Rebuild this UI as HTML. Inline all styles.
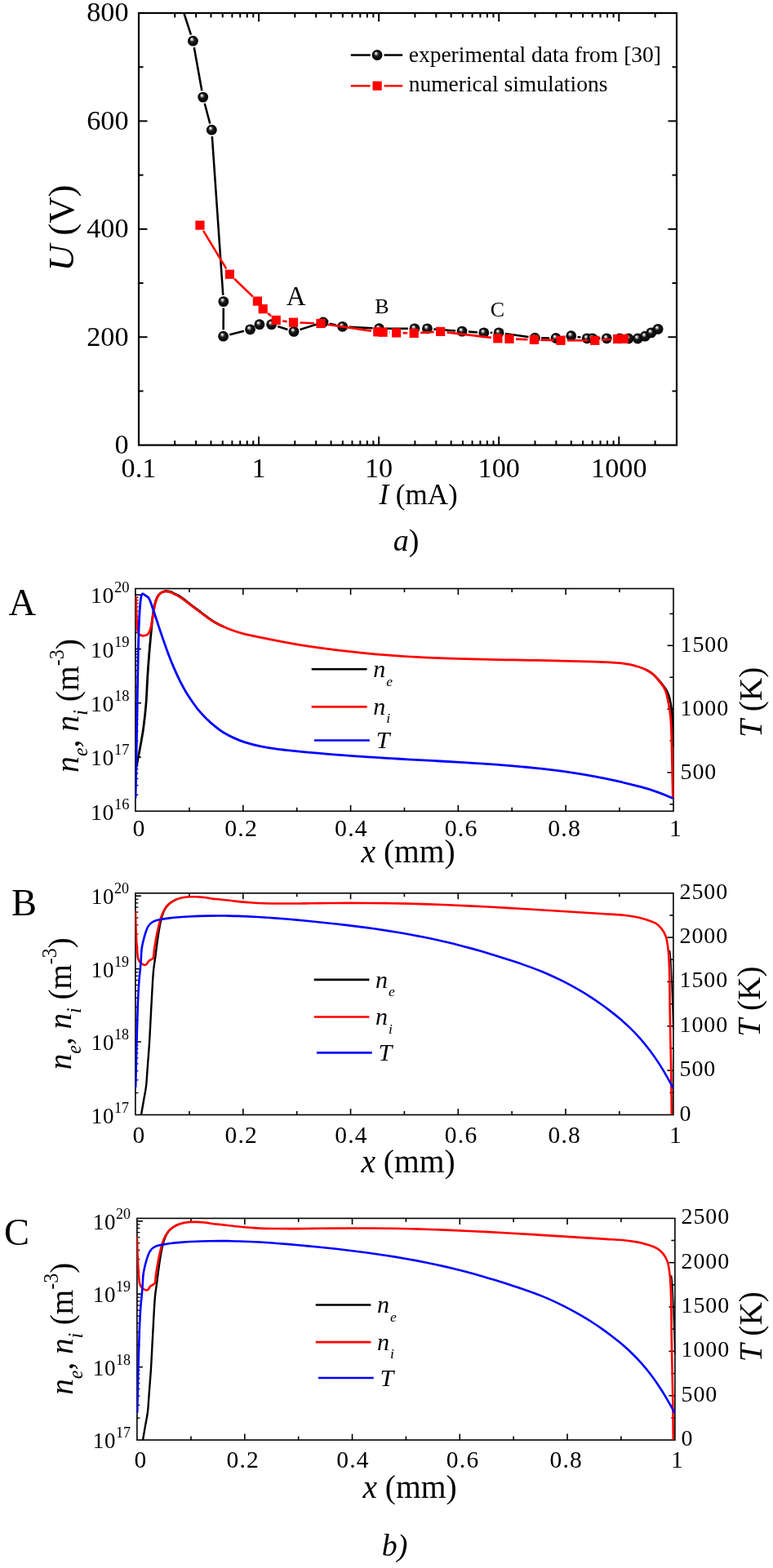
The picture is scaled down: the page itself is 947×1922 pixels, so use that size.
<!DOCTYPE html>
<html><head><meta charset="utf-8"><title>Figure</title>
<style>html,body{margin:0;padding:0;background:#fff}svg{display:block}text{font-family:"Liberation Serif",serif;fill:#000}</style>
</head><body>
<svg width="947" height="1922" viewBox="0 0 947 1922">
<defs>
<radialGradient id="ball" cx="0.5" cy="0.5" r="0.5" fx="0.36" fy="0.30">
<stop offset="0" stop-color="#fff"/><stop offset="0.16" stop-color="#c8c8c8"/><stop offset="0.45" stop-color="#1a1a1a"/><stop offset="1" stop-color="#000"/>
</radialGradient>
</defs>
<rect width="947" height="1922" fill="#fff"/>
<rect x="170.0" y="16.0" width="659.0" height="529.6" fill="none" stroke="#000" stroke-width="2.2"/>
<line x1="214.18" y1="545.60" x2="214.18" y2="540.10" stroke="#000" stroke-width="2.0" stroke-linecap="butt"/>
<line x1="214.18" y1="16.00" x2="214.18" y2="21.50" stroke="#000" stroke-width="2.0" stroke-linecap="butt"/>
<line x1="240.08" y1="545.60" x2="240.08" y2="540.10" stroke="#000" stroke-width="2.0" stroke-linecap="butt"/>
<line x1="240.08" y1="16.00" x2="240.08" y2="21.50" stroke="#000" stroke-width="2.0" stroke-linecap="butt"/>
<line x1="258.46" y1="545.60" x2="258.46" y2="540.10" stroke="#000" stroke-width="2.0" stroke-linecap="butt"/>
<line x1="258.46" y1="16.00" x2="258.46" y2="21.50" stroke="#000" stroke-width="2.0" stroke-linecap="butt"/>
<line x1="272.72" y1="545.60" x2="272.72" y2="540.10" stroke="#000" stroke-width="2.0" stroke-linecap="butt"/>
<line x1="272.72" y1="16.00" x2="272.72" y2="21.50" stroke="#000" stroke-width="2.0" stroke-linecap="butt"/>
<line x1="284.37" y1="545.60" x2="284.37" y2="540.10" stroke="#000" stroke-width="2.0" stroke-linecap="butt"/>
<line x1="284.37" y1="16.00" x2="284.37" y2="21.50" stroke="#000" stroke-width="2.0" stroke-linecap="butt"/>
<line x1="294.21" y1="545.60" x2="294.21" y2="540.10" stroke="#000" stroke-width="2.0" stroke-linecap="butt"/>
<line x1="294.21" y1="16.00" x2="294.21" y2="21.50" stroke="#000" stroke-width="2.0" stroke-linecap="butt"/>
<line x1="302.74" y1="545.60" x2="302.74" y2="540.10" stroke="#000" stroke-width="2.0" stroke-linecap="butt"/>
<line x1="302.74" y1="16.00" x2="302.74" y2="21.50" stroke="#000" stroke-width="2.0" stroke-linecap="butt"/>
<line x1="310.27" y1="545.60" x2="310.27" y2="540.10" stroke="#000" stroke-width="2.0" stroke-linecap="butt"/>
<line x1="310.27" y1="16.00" x2="310.27" y2="21.50" stroke="#000" stroke-width="2.0" stroke-linecap="butt"/>
<line x1="317.00" y1="545.60" x2="317.00" y2="535.10" stroke="#000" stroke-width="2.0" stroke-linecap="butt"/>
<line x1="317.00" y1="16.00" x2="317.00" y2="26.50" stroke="#000" stroke-width="2.0" stroke-linecap="butt"/>
<line x1="361.28" y1="545.60" x2="361.28" y2="540.10" stroke="#000" stroke-width="2.0" stroke-linecap="butt"/>
<line x1="361.28" y1="16.00" x2="361.28" y2="21.50" stroke="#000" stroke-width="2.0" stroke-linecap="butt"/>
<line x1="387.18" y1="545.60" x2="387.18" y2="540.10" stroke="#000" stroke-width="2.0" stroke-linecap="butt"/>
<line x1="387.18" y1="16.00" x2="387.18" y2="21.50" stroke="#000" stroke-width="2.0" stroke-linecap="butt"/>
<line x1="405.56" y1="545.60" x2="405.56" y2="540.10" stroke="#000" stroke-width="2.0" stroke-linecap="butt"/>
<line x1="405.56" y1="16.00" x2="405.56" y2="21.50" stroke="#000" stroke-width="2.0" stroke-linecap="butt"/>
<line x1="419.82" y1="545.60" x2="419.82" y2="540.10" stroke="#000" stroke-width="2.0" stroke-linecap="butt"/>
<line x1="419.82" y1="16.00" x2="419.82" y2="21.50" stroke="#000" stroke-width="2.0" stroke-linecap="butt"/>
<line x1="431.47" y1="545.60" x2="431.47" y2="540.10" stroke="#000" stroke-width="2.0" stroke-linecap="butt"/>
<line x1="431.47" y1="16.00" x2="431.47" y2="21.50" stroke="#000" stroke-width="2.0" stroke-linecap="butt"/>
<line x1="441.31" y1="545.60" x2="441.31" y2="540.10" stroke="#000" stroke-width="2.0" stroke-linecap="butt"/>
<line x1="441.31" y1="16.00" x2="441.31" y2="21.50" stroke="#000" stroke-width="2.0" stroke-linecap="butt"/>
<line x1="449.84" y1="545.60" x2="449.84" y2="540.10" stroke="#000" stroke-width="2.0" stroke-linecap="butt"/>
<line x1="449.84" y1="16.00" x2="449.84" y2="21.50" stroke="#000" stroke-width="2.0" stroke-linecap="butt"/>
<line x1="457.37" y1="545.60" x2="457.37" y2="540.10" stroke="#000" stroke-width="2.0" stroke-linecap="butt"/>
<line x1="457.37" y1="16.00" x2="457.37" y2="21.50" stroke="#000" stroke-width="2.0" stroke-linecap="butt"/>
<line x1="464.10" y1="545.60" x2="464.10" y2="535.10" stroke="#000" stroke-width="2.0" stroke-linecap="butt"/>
<line x1="464.10" y1="16.00" x2="464.10" y2="26.50" stroke="#000" stroke-width="2.0" stroke-linecap="butt"/>
<line x1="508.38" y1="545.60" x2="508.38" y2="540.10" stroke="#000" stroke-width="2.0" stroke-linecap="butt"/>
<line x1="508.38" y1="16.00" x2="508.38" y2="21.50" stroke="#000" stroke-width="2.0" stroke-linecap="butt"/>
<line x1="534.28" y1="545.60" x2="534.28" y2="540.10" stroke="#000" stroke-width="2.0" stroke-linecap="butt"/>
<line x1="534.28" y1="16.00" x2="534.28" y2="21.50" stroke="#000" stroke-width="2.0" stroke-linecap="butt"/>
<line x1="552.66" y1="545.60" x2="552.66" y2="540.10" stroke="#000" stroke-width="2.0" stroke-linecap="butt"/>
<line x1="552.66" y1="16.00" x2="552.66" y2="21.50" stroke="#000" stroke-width="2.0" stroke-linecap="butt"/>
<line x1="566.92" y1="545.60" x2="566.92" y2="540.10" stroke="#000" stroke-width="2.0" stroke-linecap="butt"/>
<line x1="566.92" y1="16.00" x2="566.92" y2="21.50" stroke="#000" stroke-width="2.0" stroke-linecap="butt"/>
<line x1="578.57" y1="545.60" x2="578.57" y2="540.10" stroke="#000" stroke-width="2.0" stroke-linecap="butt"/>
<line x1="578.57" y1="16.00" x2="578.57" y2="21.50" stroke="#000" stroke-width="2.0" stroke-linecap="butt"/>
<line x1="588.41" y1="545.60" x2="588.41" y2="540.10" stroke="#000" stroke-width="2.0" stroke-linecap="butt"/>
<line x1="588.41" y1="16.00" x2="588.41" y2="21.50" stroke="#000" stroke-width="2.0" stroke-linecap="butt"/>
<line x1="596.94" y1="545.60" x2="596.94" y2="540.10" stroke="#000" stroke-width="2.0" stroke-linecap="butt"/>
<line x1="596.94" y1="16.00" x2="596.94" y2="21.50" stroke="#000" stroke-width="2.0" stroke-linecap="butt"/>
<line x1="604.47" y1="545.60" x2="604.47" y2="540.10" stroke="#000" stroke-width="2.0" stroke-linecap="butt"/>
<line x1="604.47" y1="16.00" x2="604.47" y2="21.50" stroke="#000" stroke-width="2.0" stroke-linecap="butt"/>
<line x1="611.20" y1="545.60" x2="611.20" y2="535.10" stroke="#000" stroke-width="2.0" stroke-linecap="butt"/>
<line x1="611.20" y1="16.00" x2="611.20" y2="26.50" stroke="#000" stroke-width="2.0" stroke-linecap="butt"/>
<line x1="655.48" y1="545.60" x2="655.48" y2="540.10" stroke="#000" stroke-width="2.0" stroke-linecap="butt"/>
<line x1="655.48" y1="16.00" x2="655.48" y2="21.50" stroke="#000" stroke-width="2.0" stroke-linecap="butt"/>
<line x1="681.38" y1="545.60" x2="681.38" y2="540.10" stroke="#000" stroke-width="2.0" stroke-linecap="butt"/>
<line x1="681.38" y1="16.00" x2="681.38" y2="21.50" stroke="#000" stroke-width="2.0" stroke-linecap="butt"/>
<line x1="699.76" y1="545.60" x2="699.76" y2="540.10" stroke="#000" stroke-width="2.0" stroke-linecap="butt"/>
<line x1="699.76" y1="16.00" x2="699.76" y2="21.50" stroke="#000" stroke-width="2.0" stroke-linecap="butt"/>
<line x1="714.02" y1="545.60" x2="714.02" y2="540.10" stroke="#000" stroke-width="2.0" stroke-linecap="butt"/>
<line x1="714.02" y1="16.00" x2="714.02" y2="21.50" stroke="#000" stroke-width="2.0" stroke-linecap="butt"/>
<line x1="725.67" y1="545.60" x2="725.67" y2="540.10" stroke="#000" stroke-width="2.0" stroke-linecap="butt"/>
<line x1="725.67" y1="16.00" x2="725.67" y2="21.50" stroke="#000" stroke-width="2.0" stroke-linecap="butt"/>
<line x1="735.51" y1="545.60" x2="735.51" y2="540.10" stroke="#000" stroke-width="2.0" stroke-linecap="butt"/>
<line x1="735.51" y1="16.00" x2="735.51" y2="21.50" stroke="#000" stroke-width="2.0" stroke-linecap="butt"/>
<line x1="744.04" y1="545.60" x2="744.04" y2="540.10" stroke="#000" stroke-width="2.0" stroke-linecap="butt"/>
<line x1="744.04" y1="16.00" x2="744.04" y2="21.50" stroke="#000" stroke-width="2.0" stroke-linecap="butt"/>
<line x1="751.57" y1="545.60" x2="751.57" y2="540.10" stroke="#000" stroke-width="2.0" stroke-linecap="butt"/>
<line x1="751.57" y1="16.00" x2="751.57" y2="21.50" stroke="#000" stroke-width="2.0" stroke-linecap="butt"/>
<line x1="758.30" y1="545.60" x2="758.30" y2="535.10" stroke="#000" stroke-width="2.0" stroke-linecap="butt"/>
<line x1="758.30" y1="16.00" x2="758.30" y2="26.50" stroke="#000" stroke-width="2.0" stroke-linecap="butt"/>
<line x1="802.58" y1="545.60" x2="802.58" y2="540.10" stroke="#000" stroke-width="2.0" stroke-linecap="butt"/>
<line x1="802.58" y1="16.00" x2="802.58" y2="21.50" stroke="#000" stroke-width="2.0" stroke-linecap="butt"/>
<line x1="170.00" y1="479.40" x2="175.50" y2="479.40" stroke="#000" stroke-width="2.0" stroke-linecap="butt"/>
<line x1="829.00" y1="479.40" x2="823.50" y2="479.40" stroke="#000" stroke-width="2.0" stroke-linecap="butt"/>
<line x1="170.00" y1="413.20" x2="180.50" y2="413.20" stroke="#000" stroke-width="2.0" stroke-linecap="butt"/>
<line x1="829.00" y1="413.20" x2="818.50" y2="413.20" stroke="#000" stroke-width="2.0" stroke-linecap="butt"/>
<line x1="170.00" y1="347.00" x2="175.50" y2="347.00" stroke="#000" stroke-width="2.0" stroke-linecap="butt"/>
<line x1="829.00" y1="347.00" x2="823.50" y2="347.00" stroke="#000" stroke-width="2.0" stroke-linecap="butt"/>
<line x1="170.00" y1="280.80" x2="180.50" y2="280.80" stroke="#000" stroke-width="2.0" stroke-linecap="butt"/>
<line x1="829.00" y1="280.80" x2="818.50" y2="280.80" stroke="#000" stroke-width="2.0" stroke-linecap="butt"/>
<line x1="170.00" y1="214.60" x2="175.50" y2="214.60" stroke="#000" stroke-width="2.0" stroke-linecap="butt"/>
<line x1="829.00" y1="214.60" x2="823.50" y2="214.60" stroke="#000" stroke-width="2.0" stroke-linecap="butt"/>
<line x1="170.00" y1="148.40" x2="180.50" y2="148.40" stroke="#000" stroke-width="2.0" stroke-linecap="butt"/>
<line x1="829.00" y1="148.40" x2="818.50" y2="148.40" stroke="#000" stroke-width="2.0" stroke-linecap="butt"/>
<line x1="170.00" y1="82.20" x2="175.50" y2="82.20" stroke="#000" stroke-width="2.0" stroke-linecap="butt"/>
<line x1="829.00" y1="82.20" x2="823.50" y2="82.20" stroke="#000" stroke-width="2.0" stroke-linecap="butt"/>
<text transform="translate(157.50,555.90)" font-size="34.2" text-anchor="end" >0</text>
<text transform="translate(157.50,423.50)" font-size="34.2" text-anchor="end" >200</text>
<text transform="translate(157.50,291.10)" font-size="34.2" text-anchor="end" >400</text>
<text transform="translate(157.50,158.70)" font-size="34.2" text-anchor="end" >600</text>
<text transform="translate(157.50,26.30)" font-size="34.2" text-anchor="end" >800</text>
<text transform="translate(169.90,584.50)" font-size="34.2" text-anchor="middle" >0.1</text>
<text transform="translate(317.00,584.50)" font-size="34.2" text-anchor="middle" >1</text>
<text transform="translate(464.10,584.50)" font-size="34.2" text-anchor="middle" >10</text>
<text transform="translate(611.20,584.50)" font-size="34.2" text-anchor="middle" >100</text>
<text transform="translate(758.30,584.50)" font-size="34.2" text-anchor="middle" >1000</text>
<text transform="translate(512.50,617.80)" font-size="35" text-anchor="middle" ><tspan font-style="italic">I</tspan> (mA)</text>
<text transform="translate(497.50,674.50)" font-size="38" text-anchor="middle" ><tspan font-style="italic">a</tspan>)</text>
<text transform="translate(90.30,279.50) rotate(-90)" font-size="45" text-anchor="middle" ><tspan font-style="italic">U</tspan> (V)</text>
<clipPath id="ca"><rect x="170.0" y="16.0" width="659.0" height="529.6"/></clipPath>
<g clip-path="url(#ca)">
<line x1="223.76" y1="11.24" x2="233.96" y2="42.69" stroke="#000" stroke-width="2.55" stroke-linecap="butt"/>
<line x1="237.79" y1="57.98" x2="247.31" y2="111.32" stroke="#000" stroke-width="2.55" stroke-linecap="butt"/>
<line x1="250.72" y1="126.74" x2="257.28" y2="151.56" stroke="#000" stroke-width="2.55" stroke-linecap="butt"/>
<line x1="259.84" y1="167.08" x2="273.26" y2="361.72" stroke="#000" stroke-width="2.55" stroke-linecap="butt"/>
<line x1="273.76" y1="377.50" x2="273.64" y2="404.30" stroke="#000" stroke-width="2.55" stroke-linecap="butt"/>
<line x1="281.25" y1="410.25" x2="298.85" y2="405.75" stroke="#000" stroke-width="2.55" stroke-linecap="butt"/>
<line x1="340.13" y1="400.09" x2="352.47" y2="404.01" stroke="#000" stroke-width="2.55" stroke-linecap="butt"/>
<line x1="367.53" y1="404.02" x2="388.47" y2="397.38" stroke="#000" stroke-width="2.55" stroke-linecap="butt"/>
<line x1="403.71" y1="396.73" x2="411.89" y2="398.57" stroke="#000" stroke-width="2.55" stroke-linecap="butt"/>
<line x1="427.49" y1="400.72" x2="456.61" y2="402.28" stroke="#000" stroke-width="2.55" stroke-linecap="butt"/>
<line x1="472.40" y1="402.72" x2="500.00" y2="402.78" stroke="#000" stroke-width="2.55" stroke-linecap="butt"/>
<line x1="531.28" y1="403.41" x2="558.12" y2="405.49" stroke="#000" stroke-width="2.55" stroke-linecap="butt"/>
<line x1="573.88" y1="406.63" x2="584.92" y2="407.37" stroke="#000" stroke-width="2.55" stroke-linecap="butt"/>
<line x1="600.70" y1="407.90" x2="603.20" y2="407.90" stroke="#000" stroke-width="2.55" stroke-linecap="butt"/>
<line x1="618.92" y1="409.01" x2="647.48" y2="413.09" stroke="#000" stroke-width="2.55" stroke-linecap="butt"/>
<line x1="663.20" y1="414.29" x2="673.10" y2="414.41" stroke="#000" stroke-width="2.55" stroke-linecap="butt"/>
<line x1="688.81" y1="413.33" x2="691.89" y2="412.87" stroke="#000" stroke-width="2.55" stroke-linecap="butt"/>
<line x1="707.50" y1="412.94" x2="711.40" y2="413.56" stroke="#000" stroke-width="2.55" stroke-linecap="butt"/>
<line x1="733.70" y1="414.80" x2="735.40" y2="414.80" stroke="#000" stroke-width="2.55" stroke-linecap="butt"/>
</g>
<circle cx="236.40" cy="50.20" r="6.4" fill="url(#ball)"/>
<circle cx="248.70" cy="119.10" r="6.4" fill="url(#ball)"/>
<circle cx="259.30" cy="159.20" r="6.4" fill="url(#ball)"/>
<circle cx="273.80" cy="369.60" r="6.4" fill="url(#ball)"/>
<circle cx="273.60" cy="412.20" r="6.4" fill="url(#ball)"/>
<circle cx="306.50" cy="403.80" r="6.4" fill="url(#ball)"/>
<circle cx="317.90" cy="397.70" r="6.4" fill="url(#ball)"/>
<circle cx="332.60" cy="397.70" r="6.4" fill="url(#ball)"/>
<circle cx="360.00" cy="406.40" r="6.4" fill="url(#ball)"/>
<circle cx="396.00" cy="395.00" r="6.4" fill="url(#ball)"/>
<circle cx="419.60" cy="400.30" r="6.4" fill="url(#ball)"/>
<circle cx="464.50" cy="402.70" r="6.4" fill="url(#ball)"/>
<circle cx="507.90" cy="402.80" r="6.4" fill="url(#ball)"/>
<circle cx="523.40" cy="402.80" r="6.4" fill="url(#ball)"/>
<circle cx="566.00" cy="406.10" r="6.4" fill="url(#ball)"/>
<circle cx="592.80" cy="407.90" r="6.4" fill="url(#ball)"/>
<circle cx="611.10" cy="407.90" r="6.4" fill="url(#ball)"/>
<circle cx="655.30" cy="414.20" r="6.4" fill="url(#ball)"/>
<circle cx="681.00" cy="414.50" r="6.4" fill="url(#ball)"/>
<circle cx="699.70" cy="411.70" r="6.4" fill="url(#ball)"/>
<circle cx="719.20" cy="414.80" r="6.4" fill="url(#ball)"/>
<circle cx="725.80" cy="414.80" r="6.4" fill="url(#ball)"/>
<circle cx="743.30" cy="414.80" r="6.4" fill="url(#ball)"/>
<circle cx="759.20" cy="414.80" r="6.4" fill="url(#ball)"/>
<circle cx="770.10" cy="415.00" r="6.4" fill="url(#ball)"/>
<circle cx="781.30" cy="415.00" r="6.4" fill="url(#ball)"/>
<circle cx="790.20" cy="412.20" r="6.4" fill="url(#ball)"/>
<circle cx="797.80" cy="407.90" r="6.4" fill="url(#ball)"/>
<circle cx="806.10" cy="403.40" r="6.4" fill="url(#ball)"/>
<line x1="249.10" y1="282.94" x2="277.25" y2="329.36" stroke="#f00" stroke-width="2.6" stroke-linecap="butt"/>
<line x1="287.15" y1="341.76" x2="309.65" y2="363.54" stroke="#f00" stroke-width="2.6" stroke-linecap="butt"/>
<line x1="328.28" y1="383.90" x2="332.12" y2="387.20" stroke="#f00" stroke-width="2.6" stroke-linecap="butt"/>
<line x1="346.13" y1="393.44" x2="351.57" y2="394.16" stroke="#f00" stroke-width="2.6" stroke-linecap="butt"/>
<line x1="367.49" y1="395.51" x2="385.01" y2="396.19" stroke="#f00" stroke-width="2.6" stroke-linecap="butt"/>
<line x1="400.91" y1="397.67" x2="454.89" y2="405.63" stroke="#f00" stroke-width="2.6" stroke-linecap="butt"/>
<line x1="477.09" y1="407.54" x2="477.61" y2="407.56" stroke="#f00" stroke-width="2.6" stroke-linecap="butt"/>
<line x1="493.60" y1="408.09" x2="499.20" y2="408.21" stroke="#f00" stroke-width="2.6" stroke-linecap="butt"/>
<line x1="515.18" y1="407.91" x2="531.62" y2="406.89" stroke="#f00" stroke-width="2.6" stroke-linecap="butt"/>
<line x1="547.54" y1="407.35" x2="601.86" y2="413.85" stroke="#f00" stroke-width="2.6" stroke-linecap="butt"/>
<line x1="631.99" y1="415.59" x2="646.41" y2="416.11" stroke="#f00" stroke-width="2.6" stroke-linecap="butt"/>
<line x1="662.40" y1="416.62" x2="679.00" y2="417.08" stroke="#f00" stroke-width="2.6" stroke-linecap="butt"/>
<line x1="695.00" y1="417.30" x2="720.80" y2="417.30" stroke="#f00" stroke-width="2.6" stroke-linecap="butt"/>
<line x1="736.78" y1="416.78" x2="748.72" y2="416.02" stroke="#f00" stroke-width="2.6" stroke-linecap="butt"/>
<rect x="239.35" y="270.50" width="11.2" height="11.2" fill="#f00"/>
<rect x="275.80" y="330.60" width="11.2" height="11.2" fill="#f00"/>
<rect x="309.80" y="363.50" width="11.2" height="11.2" fill="#f00"/>
<rect x="316.60" y="373.10" width="11.2" height="11.2" fill="#f00"/>
<rect x="332.60" y="386.80" width="11.2" height="11.2" fill="#f00"/>
<rect x="353.90" y="389.60" width="11.2" height="11.2" fill="#f00"/>
<rect x="387.40" y="390.90" width="11.2" height="11.2" fill="#f00"/>
<rect x="457.20" y="401.20" width="11.2" height="11.2" fill="#f00"/>
<rect x="463.50" y="401.60" width="11.2" height="11.2" fill="#f00"/>
<rect x="480.00" y="402.30" width="11.2" height="11.2" fill="#f00"/>
<rect x="501.60" y="402.80" width="11.2" height="11.2" fill="#f00"/>
<rect x="534.00" y="400.80" width="11.2" height="11.2" fill="#f00"/>
<rect x="604.20" y="409.20" width="11.2" height="11.2" fill="#f00"/>
<rect x="618.40" y="409.70" width="11.2" height="11.2" fill="#f00"/>
<rect x="648.80" y="410.80" width="11.2" height="11.2" fill="#f00"/>
<rect x="681.40" y="411.70" width="11.2" height="11.2" fill="#f00"/>
<rect x="723.20" y="411.70" width="11.2" height="11.2" fill="#f00"/>
<rect x="751.10" y="409.90" width="11.2" height="11.2" fill="#f00"/>
<rect x="758.70" y="409.70" width="11.2" height="11.2" fill="#f00"/>
<text transform="translate(362.70,373.70)" font-size="33" text-anchor="middle" >A</text>
<text transform="translate(467.90,384.30)" font-size="26" text-anchor="middle" >B</text>
<text transform="translate(609.50,388.00)" font-size="26" text-anchor="middle" >C</text>
<line x1="429.80" y1="67.50" x2="493.20" y2="67.50" stroke="#000" stroke-width="2.55" stroke-linecap="butt"/>
<circle cx="462.1" cy="67.5" r="8.5" fill="#fff"/>
<circle cx="462.1" cy="67.5" r="6.4" fill="url(#ball)"/>
<line x1="429.80" y1="105.20" x2="493.20" y2="105.20" stroke="#f00" stroke-width="2.6" stroke-linecap="butt"/>
<rect x="453.6" y="96.7" width="17" height="17" fill="#fff"/>
<rect x="456.5" y="99.6" width="11.2" height="11.2" fill="#f00"/>
<text transform="translate(500.70,75.50)" font-size="27.5" text-anchor="start" >experimental data from [30]</text>
<text transform="translate(500.70,112.30)" font-size="27.5" text-anchor="start" >numerical simulations</text>
<clipPath id="cA"><rect x="165.70000000000002" y="721.0" width="660.1" height="273.79999999999995"/></clipPath>
<line x1="231.97" y1="994.30" x2="231.97" y2="989.80" stroke="#000" stroke-width="1.6" stroke-linecap="butt"/>
<line x1="231.97" y1="721.50" x2="231.97" y2="726.00" stroke="#000" stroke-width="1.6" stroke-linecap="butt"/>
<line x1="297.84" y1="994.30" x2="297.84" y2="986.80" stroke="#000" stroke-width="1.6" stroke-linecap="butt"/>
<line x1="297.84" y1="721.50" x2="297.84" y2="729.00" stroke="#000" stroke-width="1.6" stroke-linecap="butt"/>
<line x1="363.71" y1="994.30" x2="363.71" y2="989.80" stroke="#000" stroke-width="1.6" stroke-linecap="butt"/>
<line x1="363.71" y1="721.50" x2="363.71" y2="726.00" stroke="#000" stroke-width="1.6" stroke-linecap="butt"/>
<line x1="429.58" y1="994.30" x2="429.58" y2="986.80" stroke="#000" stroke-width="1.6" stroke-linecap="butt"/>
<line x1="429.58" y1="721.50" x2="429.58" y2="729.00" stroke="#000" stroke-width="1.6" stroke-linecap="butt"/>
<line x1="495.45" y1="994.30" x2="495.45" y2="989.80" stroke="#000" stroke-width="1.6" stroke-linecap="butt"/>
<line x1="495.45" y1="721.50" x2="495.45" y2="726.00" stroke="#000" stroke-width="1.6" stroke-linecap="butt"/>
<line x1="561.32" y1="994.30" x2="561.32" y2="986.80" stroke="#000" stroke-width="1.6" stroke-linecap="butt"/>
<line x1="561.32" y1="721.50" x2="561.32" y2="729.00" stroke="#000" stroke-width="1.6" stroke-linecap="butt"/>
<line x1="627.19" y1="994.30" x2="627.19" y2="989.80" stroke="#000" stroke-width="1.6" stroke-linecap="butt"/>
<line x1="627.19" y1="721.50" x2="627.19" y2="726.00" stroke="#000" stroke-width="1.6" stroke-linecap="butt"/>
<line x1="693.06" y1="994.30" x2="693.06" y2="986.80" stroke="#000" stroke-width="1.6" stroke-linecap="butt"/>
<line x1="693.06" y1="721.50" x2="693.06" y2="729.00" stroke="#000" stroke-width="1.6" stroke-linecap="butt"/>
<line x1="758.93" y1="994.30" x2="758.93" y2="989.80" stroke="#000" stroke-width="1.6" stroke-linecap="butt"/>
<line x1="758.93" y1="721.50" x2="758.93" y2="726.00" stroke="#000" stroke-width="1.6" stroke-linecap="butt"/>
<line x1="165.90" y1="974.37" x2="169.40" y2="974.37" stroke="#000" stroke-width="1.3" stroke-linecap="butt"/>
<line x1="165.90" y1="962.70" x2="169.40" y2="962.70" stroke="#000" stroke-width="1.3" stroke-linecap="butt"/>
<line x1="165.90" y1="954.42" x2="169.40" y2="954.42" stroke="#000" stroke-width="1.3" stroke-linecap="butt"/>
<line x1="165.90" y1="947.99" x2="169.40" y2="947.99" stroke="#000" stroke-width="1.3" stroke-linecap="butt"/>
<line x1="165.90" y1="942.74" x2="169.40" y2="942.74" stroke="#000" stroke-width="1.3" stroke-linecap="butt"/>
<line x1="165.90" y1="938.31" x2="169.40" y2="938.31" stroke="#000" stroke-width="1.3" stroke-linecap="butt"/>
<line x1="165.90" y1="934.46" x2="169.40" y2="934.46" stroke="#000" stroke-width="1.3" stroke-linecap="butt"/>
<line x1="165.90" y1="931.07" x2="169.40" y2="931.07" stroke="#000" stroke-width="1.3" stroke-linecap="butt"/>
<line x1="165.90" y1="928.04" x2="172.90" y2="928.04" stroke="#000" stroke-width="1.6" stroke-linecap="butt"/>
<line x1="165.90" y1="908.09" x2="169.40" y2="908.09" stroke="#000" stroke-width="1.3" stroke-linecap="butt"/>
<line x1="165.90" y1="896.42" x2="169.40" y2="896.42" stroke="#000" stroke-width="1.3" stroke-linecap="butt"/>
<line x1="165.90" y1="888.14" x2="169.40" y2="888.14" stroke="#000" stroke-width="1.3" stroke-linecap="butt"/>
<line x1="165.90" y1="881.71" x2="169.40" y2="881.71" stroke="#000" stroke-width="1.3" stroke-linecap="butt"/>
<line x1="165.90" y1="876.46" x2="169.40" y2="876.46" stroke="#000" stroke-width="1.3" stroke-linecap="butt"/>
<line x1="165.90" y1="872.03" x2="169.40" y2="872.03" stroke="#000" stroke-width="1.3" stroke-linecap="butt"/>
<line x1="165.90" y1="868.18" x2="169.40" y2="868.18" stroke="#000" stroke-width="1.3" stroke-linecap="butt"/>
<line x1="165.90" y1="864.79" x2="169.40" y2="864.79" stroke="#000" stroke-width="1.3" stroke-linecap="butt"/>
<line x1="165.90" y1="861.76" x2="172.90" y2="861.76" stroke="#000" stroke-width="1.6" stroke-linecap="butt"/>
<line x1="165.90" y1="841.81" x2="169.40" y2="841.81" stroke="#000" stroke-width="1.3" stroke-linecap="butt"/>
<line x1="165.90" y1="830.14" x2="169.40" y2="830.14" stroke="#000" stroke-width="1.3" stroke-linecap="butt"/>
<line x1="165.90" y1="821.86" x2="169.40" y2="821.86" stroke="#000" stroke-width="1.3" stroke-linecap="butt"/>
<line x1="165.90" y1="815.43" x2="169.40" y2="815.43" stroke="#000" stroke-width="1.3" stroke-linecap="butt"/>
<line x1="165.90" y1="810.18" x2="169.40" y2="810.18" stroke="#000" stroke-width="1.3" stroke-linecap="butt"/>
<line x1="165.90" y1="805.75" x2="169.40" y2="805.75" stroke="#000" stroke-width="1.3" stroke-linecap="butt"/>
<line x1="165.90" y1="801.90" x2="169.40" y2="801.90" stroke="#000" stroke-width="1.3" stroke-linecap="butt"/>
<line x1="165.90" y1="798.51" x2="169.40" y2="798.51" stroke="#000" stroke-width="1.3" stroke-linecap="butt"/>
<line x1="165.90" y1="795.48" x2="172.90" y2="795.48" stroke="#000" stroke-width="1.6" stroke-linecap="butt"/>
<line x1="165.90" y1="775.53" x2="169.40" y2="775.53" stroke="#000" stroke-width="1.3" stroke-linecap="butt"/>
<line x1="165.90" y1="763.86" x2="169.40" y2="763.86" stroke="#000" stroke-width="1.3" stroke-linecap="butt"/>
<line x1="165.90" y1="755.58" x2="169.40" y2="755.58" stroke="#000" stroke-width="1.3" stroke-linecap="butt"/>
<line x1="165.90" y1="749.15" x2="169.40" y2="749.15" stroke="#000" stroke-width="1.3" stroke-linecap="butt"/>
<line x1="165.90" y1="743.90" x2="169.40" y2="743.90" stroke="#000" stroke-width="1.3" stroke-linecap="butt"/>
<line x1="165.90" y1="739.47" x2="169.40" y2="739.47" stroke="#000" stroke-width="1.3" stroke-linecap="butt"/>
<line x1="165.90" y1="735.62" x2="169.40" y2="735.62" stroke="#000" stroke-width="1.3" stroke-linecap="butt"/>
<line x1="165.90" y1="732.23" x2="169.40" y2="732.23" stroke="#000" stroke-width="1.3" stroke-linecap="butt"/>
<line x1="165.90" y1="729.20" x2="172.90" y2="729.20" stroke="#000" stroke-width="1.6" stroke-linecap="butt"/>
<line x1="825.00" y1="946.90" x2="817.50" y2="946.90" stroke="#000" stroke-width="1.6" stroke-linecap="butt"/>
<line x1="825.00" y1="869.10" x2="817.50" y2="869.10" stroke="#000" stroke-width="1.6" stroke-linecap="butt"/>
<line x1="825.00" y1="791.30" x2="817.50" y2="791.30" stroke="#000" stroke-width="1.6" stroke-linecap="butt"/>
<line x1="825.00" y1="985.80" x2="820.50" y2="985.80" stroke="#000" stroke-width="1.6" stroke-linecap="butt"/>
<line x1="825.00" y1="908.00" x2="820.50" y2="908.00" stroke="#000" stroke-width="1.6" stroke-linecap="butt"/>
<line x1="825.00" y1="830.20" x2="820.50" y2="830.20" stroke="#000" stroke-width="1.6" stroke-linecap="butt"/>
<line x1="825.00" y1="752.40" x2="820.50" y2="752.40" stroke="#000" stroke-width="1.6" stroke-linecap="butt"/>
<rect x="165.9" y="721.5" width="659.1" height="272.79999999999995" fill="none" stroke="#000" stroke-width="1.6"/>
<g clip-path="url(#cA)">
<path d="M166.30,943.10 C168.00,935.47 169.70,926.89 171.40,917.70 C172.83,909.95 174.27,902.79 175.70,892.40 C176.80,884.42 177.90,875.94 179.00,862.00 C179.60,854.40 180.20,838.51 180.80,829.00 C181.47,818.43 182.13,809.49 182.80,801.20 C183.63,790.84 184.47,781.92 185.30,773.30 C186.00,766.06 186.70,758.03 187.40,753.00 C188.10,747.97 188.80,743.71 189.50,741.00 C190.50,737.14 191.50,734.42 192.50,732.50 C193.67,730.27 194.83,728.44 196.00,727.50 C197.33,726.43 198.67,725.76 200.00,725.30 C201.03,724.94 202.07,724.50 203.10,724.50 C204.73,724.50 206.37,724.85 208.00,725.20 C210.00,725.62 212.00,726.90 214.00,727.80 C215.43,728.44 216.87,729.02 218.30,729.80 C223.37,732.57 228.43,737.20 233.50,741.00 C238.57,744.80 243.63,748.86 248.70,752.60 C252.93,755.73 257.17,759.16 261.40,761.70 C265.60,764.22 269.80,766.45 274.00,768.20" fill="none" stroke="#000" stroke-width="2.8" stroke-linejoin="round" stroke-linecap="butt"/>
<path d="M789.80,820.30 C793.17,821.37 796.53,823.64 799.90,826.20 C802.43,828.13 804.97,831.31 807.50,834.20 C809.33,836.29 811.17,838.46 813.00,841.00 C814.50,843.07 816.00,844.90 817.50,848.00 C818.53,850.13 819.57,852.94 820.60,857.00 C821.30,859.75 822.00,863.18 822.70,869.00 C823.23,873.44 823.77,878.99 824.30,891.80 C824.47,895.80 824.63,905.99 824.80,915.00" fill="none" stroke="#000" stroke-width="2.6" stroke-linejoin="round" stroke-linecap="butt"/>
<path d="M166.40,731.00 C166.57,735.92 166.73,740.65 166.90,745.00 C167.13,751.09 167.37,758.57 167.60,762.00 C168.00,767.88 168.40,772.68 168.80,774.00 C169.53,776.42 170.27,777.57 171.00,778.00 C172.33,778.79 173.67,779.30 175.00,779.30 C176.67,779.30 178.33,778.91 180.00,778.30 C181.33,777.81 182.67,775.29 184.00,772.00 C184.83,769.94 185.67,764.46 186.50,760.00 C187.17,756.43 187.83,751.40 188.50,748.00 C189.33,743.74 190.17,739.40 191.00,737.00 C192.33,733.16 193.67,730.22 195.00,728.80 C196.50,727.20 198.00,726.10 199.50,725.60 C200.70,725.20 201.90,724.80 203.10,724.80 C204.73,724.80 206.37,725.20 208.00,725.60 C210.00,726.08 212.00,727.64 214.00,728.60 C215.43,729.29 216.87,729.82 218.30,730.60 C223.37,733.36 228.43,737.87 233.50,741.60 C238.57,745.33 243.63,749.33 248.70,753.00 C252.93,756.06 257.17,759.43 261.40,761.90 C265.60,764.35 269.80,766.33 274.00,768.20 C278.23,770.09 282.47,771.85 286.70,773.30 C290.93,774.75 295.17,775.99 299.40,777.07 C306.07,778.77 312.73,780.07 319.40,781.46 C326.07,782.85 332.73,784.18 339.40,785.44 C346.07,786.70 352.73,787.91 359.40,789.04 C366.07,790.18 372.73,791.26 379.40,792.27 C386.07,793.28 392.73,794.25 399.40,795.14 C406.07,796.04 412.73,796.89 419.40,797.68 C426.07,798.47 432.73,799.21 439.40,799.89 C446.07,800.58 452.73,801.22 459.40,801.80 C466.07,802.38 472.73,802.92 479.40,803.41 C486.07,803.90 492.73,804.35 499.40,804.75 C506.07,805.15 512.73,805.51 519.40,805.84 C526.07,806.16 532.73,806.45 539.40,806.71 C546.07,806.96 552.73,807.20 559.40,807.40 C566.07,807.60 572.73,807.78 579.40,807.95 C586.07,808.11 592.73,808.25 599.40,808.39 C606.07,808.52 612.73,808.64 619.40,808.76 C626.07,808.88 632.73,808.98 639.40,809.10 C646.07,809.21 652.73,809.32 659.40,809.43 C666.07,809.55 672.73,809.67 679.40,809.81 C686.07,809.95 692.73,810.09 699.40,810.26 C706.07,810.43 712.73,810.61 719.40,810.82 C726.07,811.03 732.73,811.27 739.40,811.53 C741.83,811.63 744.27,811.70 746.70,811.83 C749.63,811.99 752.57,812.26 755.50,812.50 C758.47,812.74 761.43,812.95 764.40,813.30 C766.60,813.56 768.80,813.97 771.00,814.40 C773.03,814.79 775.07,815.26 777.10,815.80 C779.23,816.36 781.37,817.05 783.50,817.80 C785.60,818.53 787.70,819.31 789.80,820.30 C793.17,821.89 796.53,823.73 799.90,826.40 C802.43,828.41 804.97,831.58 807.50,834.80 C810.03,838.02 812.57,840.38 815.10,846.20 C816.37,849.11 817.63,854.91 818.90,861.40 C819.77,865.84 820.63,869.88 821.50,879.10 C821.90,883.36 822.30,890.97 822.70,901.90 C822.97,909.19 823.23,924.79 823.50,937.40 C823.77,950.01 824.03,963.57 824.30,977.90" fill="none" stroke="#f00" stroke-width="2.75" stroke-linejoin="round" stroke-linecap="butt"/>
<path d="M166.10,978.50 C166.37,967.41 166.63,954.51 166.90,940.00 C167.27,920.05 167.63,891.44 168.00,870.00 C168.43,844.66 168.87,817.79 169.30,800.00 C169.70,783.58 170.10,768.27 170.50,760.00 C171.00,749.67 171.50,742.29 172.00,738.00 C172.43,734.28 172.87,731.13 173.30,730.00 C173.77,728.78 174.23,727.70 174.70,727.70 C175.80,727.70 176.90,729.07 178.00,729.80 C179.17,730.57 180.33,731.03 181.50,732.20 C182.17,732.87 182.83,734.14 183.50,735.50 C184.10,736.73 184.70,738.63 185.30,740.30 C187.00,745.04 188.70,750.41 190.40,755.50 C192.93,763.09 195.47,771.01 198.00,778.40 C200.53,785.79 203.07,793.18 205.60,799.90 C208.13,806.62 210.67,813.01 213.20,818.90 C215.73,824.79 218.27,830.37 220.80,835.40 C223.33,840.43 225.87,845.12 228.40,849.30 C230.93,853.48 233.47,857.11 236.00,860.70 C238.53,864.29 241.07,867.85 243.60,870.90 C246.13,873.95 248.67,876.66 251.20,879.20 C254.60,882.61 258.00,885.79 261.40,888.60 C265.60,892.08 269.80,895.43 274.00,898.00 C278.23,900.59 282.47,902.69 286.70,904.60 C290.93,906.51 295.17,908.29 299.40,909.65 C306.07,911.80 312.73,913.58 319.40,914.93 C326.07,916.28 332.73,917.34 339.40,918.22 C346.07,919.09 352.73,919.73 359.40,920.40 C366.07,921.07 372.73,921.66 379.40,922.27 C386.07,922.88 392.73,923.48 399.40,924.04 C406.07,924.60 412.73,925.15 419.40,925.66 C426.07,926.18 432.73,926.66 439.40,927.12 C446.07,927.59 452.73,928.02 459.40,928.45 C466.07,928.87 472.73,929.27 479.40,929.66 C486.07,930.05 492.73,930.43 499.40,930.80 C506.07,931.17 512.73,931.53 519.40,931.90 C526.07,932.26 532.73,932.62 539.40,932.98 C546.07,933.35 552.73,933.71 559.40,934.10 C566.07,934.48 572.73,934.87 579.40,935.28 C586.07,935.70 592.73,936.13 599.40,936.59 C606.07,937.06 612.73,937.55 619.40,938.09 C626.07,938.62 632.73,939.20 639.40,939.82 C646.07,940.44 652.73,941.12 659.40,941.84 C666.07,942.57 672.73,943.36 679.40,944.21 C686.07,945.06 692.73,945.98 699.40,946.98 C706.07,947.97 712.73,949.05 719.40,950.20 C726.07,951.35 732.73,952.60 739.40,953.93 C746.07,955.26 752.73,956.69 759.40,958.22 C766.07,959.75 772.73,961.39 779.40,963.13 C785.40,964.69 791.40,966.20 797.40,968.12 C806.37,970.98 815.33,974.46 824.30,978.50" fill="none" stroke="#00f" stroke-width="2.8" stroke-linejoin="round" stroke-linecap="butt"/>
</g>
<text transform="translate(170.50,1024.60)" font-size="29.854" text-anchor="middle" letter-spacing="1.2">0</text>
<text transform="translate(295.70,1024.60)" font-size="29.854" text-anchor="middle" letter-spacing="1.2">0.2</text>
<text transform="translate(430.50,1024.60)" font-size="29.854" text-anchor="middle" letter-spacing="1.2">0.4</text>
<text transform="translate(565.10,1024.60)" font-size="29.854" text-anchor="middle" letter-spacing="1.2">0.6</text>
<text transform="translate(691.70,1024.60)" font-size="29.854" text-anchor="middle" letter-spacing="1.2">0.8</text>
<text transform="translate(828.00,1024.60)" font-size="29.854" text-anchor="middle" letter-spacing="1.2">1</text>
<text transform="translate(140.00,1004.52)" font-size="27.810000000000002" text-anchor="end" letter-spacing="0.6">10</text>
<text transform="translate(140.10,991.52)" font-size="18.54" text-anchor="start" >16</text>
<text transform="translate(140.00,938.24)" font-size="27.810000000000002" text-anchor="end" letter-spacing="0.6">10</text>
<text transform="translate(140.10,925.24)" font-size="18.54" text-anchor="start" >17</text>
<text transform="translate(140.00,871.96)" font-size="27.810000000000002" text-anchor="end" letter-spacing="0.6">10</text>
<text transform="translate(140.10,858.96)" font-size="18.54" text-anchor="start" >18</text>
<text transform="translate(140.00,805.68)" font-size="27.810000000000002" text-anchor="end" letter-spacing="0.6">10</text>
<text transform="translate(140.10,792.68)" font-size="18.54" text-anchor="start" >19</text>
<text transform="translate(140.00,739.40)" font-size="27.810000000000002" text-anchor="end" letter-spacing="0.6">10</text>
<text transform="translate(140.10,726.40)" font-size="18.54" text-anchor="start" >20</text>
<text transform="translate(833.50,954.90)" font-size="28.0" text-anchor="start" letter-spacing="0.9">500</text>
<text transform="translate(833.50,877.10)" font-size="28.0" text-anchor="start" letter-spacing="0.9">1000</text>
<text transform="translate(833.50,799.30)" font-size="28.0" text-anchor="start" letter-spacing="0.9">1500</text>
<text transform="translate(500.05,1057.00)" font-size="39.5" text-anchor="middle" ><tspan font-style="italic">x</tspan> (mm)</text>
<text transform="translate(96.00,865.00) scale(1.025,1) rotate(-90)" font-size="39.6" text-anchor="middle" ><tspan font-style="italic">n</tspan><tspan font-style="italic" font-size="24" dy="11">e</tspan><tspan dy="-11">, </tspan><tspan font-style="italic">n</tspan><tspan font-style="italic" font-size="24" dy="11">i</tspan><tspan dy="-11"> (m</tspan><tspan font-size="24" dy="-17.5">-3</tspan><tspan dy="17.5">)</tspan></text>
<text transform="translate(933.00,860.80) scale(1.035,1) rotate(-90)" font-size="39.3" text-anchor="middle" ><tspan font-style="italic">T</tspan> (K)</text>
<line x1="381.70" y1="820.30" x2="449.60" y2="820.30" stroke="#000" stroke-width="2.6" stroke-linecap="butt"/>
<line x1="381.70" y1="866.40" x2="449.60" y2="866.40" stroke="#f00" stroke-width="2.6" stroke-linecap="butt"/>
<line x1="385.00" y1="907.50" x2="452.90" y2="907.50" stroke="#00f" stroke-width="2.6" stroke-linecap="butt"/>
<text transform="translate(457.20,829.90)" font-size="30" text-anchor="start" ><tspan font-style="italic">n</tspan><tspan font-style="italic" font-size="17.5" dy="10.8" dx="1">e</tspan></text>
<text transform="translate(457.20,876.00)" font-size="30" text-anchor="start" ><tspan font-style="italic">n</tspan><tspan font-style="italic" font-size="17.5" dy="10.4" dx="1">i</tspan></text>
<text transform="translate(460.70,917.00)" font-size="30" text-anchor="start" ><tspan font-style="italic">T</tspan></text>
<text transform="translate(10.40,753.80)" font-size="46.5" text-anchor="start" >A</text>
<clipPath id="cB"><rect x="165.70000000000002" y="1094.3" width="660.0" height="272.70000000000005"/></clipPath>
<line x1="231.96" y1="1366.50" x2="231.96" y2="1362.00" stroke="#000" stroke-width="1.6" stroke-linecap="butt"/>
<line x1="231.96" y1="1094.80" x2="231.96" y2="1099.30" stroke="#000" stroke-width="1.6" stroke-linecap="butt"/>
<line x1="297.82" y1="1366.50" x2="297.82" y2="1359.00" stroke="#000" stroke-width="1.6" stroke-linecap="butt"/>
<line x1="297.82" y1="1094.80" x2="297.82" y2="1102.30" stroke="#000" stroke-width="1.6" stroke-linecap="butt"/>
<line x1="363.68" y1="1366.50" x2="363.68" y2="1362.00" stroke="#000" stroke-width="1.6" stroke-linecap="butt"/>
<line x1="363.68" y1="1094.80" x2="363.68" y2="1099.30" stroke="#000" stroke-width="1.6" stroke-linecap="butt"/>
<line x1="429.54" y1="1366.50" x2="429.54" y2="1359.00" stroke="#000" stroke-width="1.6" stroke-linecap="butt"/>
<line x1="429.54" y1="1094.80" x2="429.54" y2="1102.30" stroke="#000" stroke-width="1.6" stroke-linecap="butt"/>
<line x1="495.40" y1="1366.50" x2="495.40" y2="1362.00" stroke="#000" stroke-width="1.6" stroke-linecap="butt"/>
<line x1="495.40" y1="1094.80" x2="495.40" y2="1099.30" stroke="#000" stroke-width="1.6" stroke-linecap="butt"/>
<line x1="561.26" y1="1366.50" x2="561.26" y2="1359.00" stroke="#000" stroke-width="1.6" stroke-linecap="butt"/>
<line x1="561.26" y1="1094.80" x2="561.26" y2="1102.30" stroke="#000" stroke-width="1.6" stroke-linecap="butt"/>
<line x1="627.12" y1="1366.50" x2="627.12" y2="1362.00" stroke="#000" stroke-width="1.6" stroke-linecap="butt"/>
<line x1="627.12" y1="1094.80" x2="627.12" y2="1099.30" stroke="#000" stroke-width="1.6" stroke-linecap="butt"/>
<line x1="692.98" y1="1366.50" x2="692.98" y2="1359.00" stroke="#000" stroke-width="1.6" stroke-linecap="butt"/>
<line x1="692.98" y1="1094.80" x2="692.98" y2="1102.30" stroke="#000" stroke-width="1.6" stroke-linecap="butt"/>
<line x1="758.84" y1="1366.50" x2="758.84" y2="1362.00" stroke="#000" stroke-width="1.6" stroke-linecap="butt"/>
<line x1="758.84" y1="1094.80" x2="758.84" y2="1099.30" stroke="#000" stroke-width="1.6" stroke-linecap="butt"/>
<line x1="165.90" y1="1339.57" x2="169.40" y2="1339.57" stroke="#000" stroke-width="1.3" stroke-linecap="butt"/>
<line x1="165.90" y1="1323.82" x2="169.40" y2="1323.82" stroke="#000" stroke-width="1.3" stroke-linecap="butt"/>
<line x1="165.90" y1="1312.65" x2="169.40" y2="1312.65" stroke="#000" stroke-width="1.3" stroke-linecap="butt"/>
<line x1="165.90" y1="1303.98" x2="169.40" y2="1303.98" stroke="#000" stroke-width="1.3" stroke-linecap="butt"/>
<line x1="165.90" y1="1296.90" x2="169.40" y2="1296.90" stroke="#000" stroke-width="1.3" stroke-linecap="butt"/>
<line x1="165.90" y1="1290.91" x2="169.40" y2="1290.91" stroke="#000" stroke-width="1.3" stroke-linecap="butt"/>
<line x1="165.90" y1="1285.73" x2="169.40" y2="1285.73" stroke="#000" stroke-width="1.3" stroke-linecap="butt"/>
<line x1="165.90" y1="1281.15" x2="169.40" y2="1281.15" stroke="#000" stroke-width="1.3" stroke-linecap="butt"/>
<line x1="165.90" y1="1277.06" x2="172.90" y2="1277.06" stroke="#000" stroke-width="1.6" stroke-linecap="butt"/>
<line x1="165.90" y1="1250.14" x2="169.40" y2="1250.14" stroke="#000" stroke-width="1.3" stroke-linecap="butt"/>
<line x1="165.90" y1="1234.39" x2="169.40" y2="1234.39" stroke="#000" stroke-width="1.3" stroke-linecap="butt"/>
<line x1="165.90" y1="1223.22" x2="169.40" y2="1223.22" stroke="#000" stroke-width="1.3" stroke-linecap="butt"/>
<line x1="165.90" y1="1214.55" x2="169.40" y2="1214.55" stroke="#000" stroke-width="1.3" stroke-linecap="butt"/>
<line x1="165.90" y1="1207.47" x2="169.40" y2="1207.47" stroke="#000" stroke-width="1.3" stroke-linecap="butt"/>
<line x1="165.90" y1="1201.48" x2="169.40" y2="1201.48" stroke="#000" stroke-width="1.3" stroke-linecap="butt"/>
<line x1="165.90" y1="1196.30" x2="169.40" y2="1196.30" stroke="#000" stroke-width="1.3" stroke-linecap="butt"/>
<line x1="165.90" y1="1191.72" x2="169.40" y2="1191.72" stroke="#000" stroke-width="1.3" stroke-linecap="butt"/>
<line x1="165.90" y1="1187.63" x2="172.90" y2="1187.63" stroke="#000" stroke-width="1.6" stroke-linecap="butt"/>
<line x1="165.90" y1="1160.71" x2="169.40" y2="1160.71" stroke="#000" stroke-width="1.3" stroke-linecap="butt"/>
<line x1="165.90" y1="1144.96" x2="169.40" y2="1144.96" stroke="#000" stroke-width="1.3" stroke-linecap="butt"/>
<line x1="165.90" y1="1133.79" x2="169.40" y2="1133.79" stroke="#000" stroke-width="1.3" stroke-linecap="butt"/>
<line x1="165.90" y1="1125.12" x2="169.40" y2="1125.12" stroke="#000" stroke-width="1.3" stroke-linecap="butt"/>
<line x1="165.90" y1="1118.04" x2="169.40" y2="1118.04" stroke="#000" stroke-width="1.3" stroke-linecap="butt"/>
<line x1="165.90" y1="1112.05" x2="169.40" y2="1112.05" stroke="#000" stroke-width="1.3" stroke-linecap="butt"/>
<line x1="165.90" y1="1106.87" x2="169.40" y2="1106.87" stroke="#000" stroke-width="1.3" stroke-linecap="butt"/>
<line x1="165.90" y1="1102.29" x2="169.40" y2="1102.29" stroke="#000" stroke-width="1.3" stroke-linecap="butt"/>
<line x1="165.90" y1="1098.20" x2="172.90" y2="1098.20" stroke="#000" stroke-width="1.6" stroke-linecap="butt"/>
<line x1="824.90" y1="1312.14" x2="817.40" y2="1312.14" stroke="#000" stroke-width="1.6" stroke-linecap="butt"/>
<line x1="824.90" y1="1257.78" x2="817.40" y2="1257.78" stroke="#000" stroke-width="1.6" stroke-linecap="butt"/>
<line x1="824.90" y1="1203.42" x2="817.40" y2="1203.42" stroke="#000" stroke-width="1.6" stroke-linecap="butt"/>
<line x1="824.90" y1="1149.06" x2="817.40" y2="1149.06" stroke="#000" stroke-width="1.6" stroke-linecap="butt"/>
<line x1="824.90" y1="1339.32" x2="820.40" y2="1339.32" stroke="#000" stroke-width="1.6" stroke-linecap="butt"/>
<line x1="824.90" y1="1284.96" x2="820.40" y2="1284.96" stroke="#000" stroke-width="1.6" stroke-linecap="butt"/>
<line x1="824.90" y1="1230.60" x2="820.40" y2="1230.60" stroke="#000" stroke-width="1.6" stroke-linecap="butt"/>
<line x1="824.90" y1="1176.24" x2="820.40" y2="1176.24" stroke="#000" stroke-width="1.6" stroke-linecap="butt"/>
<line x1="824.90" y1="1121.88" x2="820.40" y2="1121.88" stroke="#000" stroke-width="1.6" stroke-linecap="butt"/>
<rect x="165.9" y="1094.8" width="659.0" height="271.70000000000005" fill="none" stroke="#000" stroke-width="1.6"/>
<g clip-path="url(#cB)">
<path d="M173.00,1366.50 C174.00,1360.70 175.00,1354.87 176.00,1349.00 C177.03,1342.94 178.07,1339.47 179.10,1330.70 C179.73,1325.33 180.37,1313.45 181.00,1305.00 C181.63,1296.55 182.27,1289.73 182.90,1280.00 C183.70,1267.71 184.50,1249.13 185.30,1235.00 C186.20,1219.10 187.10,1199.06 188.00,1190.00 C188.70,1182.95 189.40,1179.81 190.10,1174.50 C190.93,1168.18 191.77,1160.91 192.60,1155.00 C193.50,1148.62 194.40,1142.30 195.30,1137.50 C196.30,1132.17 197.30,1127.30 198.30,1124.00 C199.47,1120.15 200.63,1117.15 201.80,1115.00 C203.13,1112.54 204.47,1110.69 205.80,1109.30 C207.50,1107.53 209.20,1106.27 210.90,1105.20 C212.93,1103.93 214.97,1102.81 217.00,1102.10" fill="none" stroke="#000" stroke-width="2.4" stroke-linejoin="round" stroke-linecap="butt"/>
<path d="M820.40,1165.00 C820.83,1165.53 821.27,1170.65 821.70,1176.00 C822.07,1180.53 822.43,1190.79 822.80,1200.00 C823.27,1211.72 823.73,1227.16 824.20,1242.00 C824.40,1248.36 824.60,1255.13 824.80,1262.00" fill="none" stroke="#000" stroke-width="1.6" stroke-linejoin="round" stroke-linecap="butt"/>
<path d="M165.90,1116.90 C166.10,1124.84 166.30,1132.44 166.50,1137.50 C166.87,1146.78 167.23,1153.31 167.60,1158.60 C168.07,1165.33 168.53,1172.68 169.00,1174.50 C169.53,1176.58 170.07,1177.42 170.60,1178.20 C171.63,1179.71 172.67,1180.61 173.70,1181.30 C174.77,1182.01 175.83,1182.90 176.90,1182.90 C177.60,1182.90 178.30,1182.67 179.00,1182.40 C180.07,1181.99 181.13,1179.15 182.20,1178.20 C183.23,1177.28 184.27,1176.79 185.30,1176.10 C186.10,1175.56 186.90,1175.58 187.70,1174.50 C188.13,1173.92 188.57,1167.00 189.00,1163.90 C189.73,1158.66 190.47,1154.23 191.20,1150.20 C192.07,1145.44 192.93,1141.31 193.80,1137.50 C194.87,1132.81 195.93,1127.91 197.00,1124.80 C198.40,1120.72 199.80,1117.70 201.20,1115.30 C202.60,1112.90 204.00,1110.92 205.40,1109.50 C207.17,1107.70 208.93,1106.40 210.70,1105.30 C212.80,1103.99 214.90,1102.86 217.00,1102.10 C219.13,1101.33 221.27,1100.66 223.40,1100.30 C226.20,1099.82 229.00,1099.30 231.80,1099.30 C234.63,1099.30 237.47,1099.30 240.30,1099.30 C243.47,1099.30 246.63,1099.68 249.80,1100.00 C253.20,1100.34 256.60,1101.21 260.00,1101.60 C262.57,1101.89 265.13,1102.04 267.70,1102.30 C273.47,1102.88 279.23,1103.74 285.00,1104.33 C293.00,1105.15 301.00,1106.04 309.00,1106.48 C317.00,1106.92 325.00,1107.34 333.00,1107.43 C341.00,1107.51 349.00,1107.57 357.00,1107.57 C365.00,1107.57 373.00,1107.40 381.00,1107.30 C389.00,1107.21 397.00,1107.06 405.00,1107.00 C413.00,1106.94 421.00,1106.87 429.00,1106.87 C437.00,1106.87 445.00,1106.90 453.00,1106.94 C461.00,1106.97 469.00,1107.09 477.00,1107.20 C485.00,1107.31 493.00,1107.48 501.00,1107.67 C509.00,1107.85 517.00,1108.10 525.00,1108.36 C533.00,1108.61 541.00,1108.93 549.00,1109.25 C557.00,1109.58 565.00,1109.95 573.00,1110.33 C581.00,1110.71 589.00,1111.13 597.00,1111.55 C605.00,1111.98 613.00,1112.43 621.00,1112.89 C629.00,1113.36 637.00,1113.84 645.00,1114.32 C653.00,1114.81 661.00,1115.31 669.00,1115.81 C677.00,1116.31 685.00,1116.81 693.00,1117.32 C701.00,1117.82 709.00,1118.32 717.00,1118.82 C725.00,1119.31 733.00,1119.80 741.00,1120.28 C747.37,1120.66 753.73,1120.88 760.10,1121.40 C766.07,1121.89 772.03,1122.75 778.00,1123.80 C782.80,1124.65 787.60,1125.91 792.40,1127.40 C796.00,1128.52 799.60,1129.66 803.20,1131.70 C805.57,1133.04 807.93,1135.22 810.30,1138.10 C812.10,1140.29 813.90,1142.64 815.70,1147.80 C816.67,1150.57 817.63,1155.64 818.60,1164.00 C818.97,1167.17 819.33,1172.28 819.70,1180.00 C819.90,1184.21 820.10,1189.21 820.30,1200.00 C820.40,1205.39 820.50,1224.48 820.60,1232.00 C820.83,1249.55 821.07,1257.82 821.30,1270.00 C821.63,1287.39 821.97,1297.67 822.30,1320.00 C822.47,1331.17 822.63,1348.33 822.80,1366.00" fill="none" stroke="#f00" stroke-width="2.6" stroke-linejoin="round" stroke-linecap="butt"/>
<path d="M166.20,1333.00 C166.57,1314.56 166.93,1297.37 167.30,1283.00 C167.80,1263.40 168.30,1243.79 168.80,1232.00 C169.40,1217.86 170.00,1207.48 170.60,1200.00 C170.93,1195.84 171.27,1193.55 171.60,1190.00 C171.90,1186.81 172.20,1183.76 172.50,1179.80 C172.83,1175.40 173.17,1166.64 173.50,1163.90 C174.27,1157.60 175.03,1155.49 175.80,1152.30 C176.70,1148.55 177.60,1145.37 178.50,1142.80 C179.53,1139.85 180.57,1137.01 181.60,1135.40 C182.83,1133.48 184.07,1132.09 185.30,1131.20 C187.07,1129.93 188.83,1129.07 190.60,1128.50 C192.73,1127.81 194.87,1127.40 197.00,1127.00 C200.50,1126.34 204.00,1125.79 207.50,1125.38 C211.50,1124.92 215.50,1124.60 219.50,1124.29 C223.50,1123.98 227.50,1123.69 231.50,1123.47 C235.50,1123.25 239.50,1123.04 243.50,1122.90 C247.50,1122.77 251.50,1122.63 255.50,1122.58 C259.50,1122.53 263.50,1122.48 267.50,1122.48 C271.50,1122.48 275.50,1122.54 279.50,1122.59 C283.50,1122.64 287.50,1122.76 291.50,1122.88 C295.50,1123.00 299.50,1123.17 303.50,1123.35 C307.50,1123.52 311.50,1123.74 315.50,1123.97 C319.50,1124.19 323.50,1124.45 327.50,1124.72 C331.50,1124.99 335.50,1125.29 339.50,1125.59 C343.50,1125.90 347.50,1126.23 351.50,1126.57 C355.50,1126.91 359.50,1127.26 363.50,1127.63 C367.50,1127.99 371.50,1128.37 375.50,1128.75 C379.50,1129.14 383.50,1129.53 387.50,1129.93 C391.50,1130.34 395.50,1130.75 399.50,1131.17 C403.50,1131.60 407.50,1132.03 411.50,1132.48 C415.50,1132.93 419.50,1133.39 423.50,1133.87 C427.50,1134.34 431.50,1134.83 435.50,1135.34 C439.50,1135.84 443.50,1136.37 447.50,1136.91 C451.50,1137.45 455.50,1138.00 459.50,1138.58 C463.50,1139.16 467.50,1139.75 471.50,1140.37 C475.50,1140.98 479.50,1141.62 483.50,1142.28 C487.50,1142.94 491.50,1143.62 495.50,1144.32 C499.50,1145.02 503.50,1145.75 507.50,1146.51 C511.50,1147.26 515.50,1148.04 519.50,1148.84 C523.50,1149.65 527.50,1150.48 531.50,1151.34 C535.50,1152.20 539.50,1153.09 543.50,1154.01 C547.50,1154.92 551.50,1155.87 555.50,1156.85 C559.50,1157.83 563.50,1158.84 567.50,1159.89 C571.50,1160.93 575.50,1162.01 579.50,1163.12 C583.50,1164.23 587.50,1165.38 591.50,1166.56 C595.50,1167.73 599.50,1168.95 603.50,1170.19 C607.50,1171.42 611.50,1172.69 615.50,1173.97 C619.50,1175.25 623.50,1176.54 627.50,1177.85 C631.50,1179.17 635.50,1180.48 639.50,1181.86 C643.50,1183.24 647.50,1184.65 651.50,1186.13 C655.50,1187.62 659.50,1189.17 663.50,1190.81 C667.50,1192.45 671.50,1194.18 675.50,1195.99 C679.50,1197.80 683.50,1199.71 687.50,1201.70 C691.50,1203.68 695.50,1205.77 699.50,1207.94 C703.50,1210.11 707.50,1212.37 711.50,1214.74 C715.50,1217.11 719.50,1219.58 723.50,1222.16 C727.50,1224.75 731.50,1227.45 735.50,1230.26 C739.50,1233.08 743.50,1236.02 747.50,1239.10 C751.50,1242.17 755.50,1245.35 759.50,1248.76 C763.50,1252.16 767.50,1255.73 771.50,1259.60 C775.50,1263.47 779.50,1267.60 783.50,1272.09 C787.50,1276.58 791.50,1281.44 795.50,1286.70 C799.50,1291.96 803.50,1297.69 807.50,1303.89 C811.50,1310.09 815.50,1316.95 819.50,1324.13 C821.17,1327.12 822.83,1330.33 824.50,1333.58" fill="none" stroke="#00f" stroke-width="2.6" stroke-linejoin="round" stroke-linecap="butt"/>
</g>
<text transform="translate(170.50,1400.80)" font-size="29.5" text-anchor="middle" letter-spacing="1.2">0</text>
<text transform="translate(295.70,1400.80)" font-size="29.5" text-anchor="middle" letter-spacing="1.2">0.2</text>
<text transform="translate(430.50,1400.80)" font-size="29.5" text-anchor="middle" letter-spacing="1.2">0.4</text>
<text transform="translate(565.10,1400.80)" font-size="29.5" text-anchor="middle" letter-spacing="1.2">0.6</text>
<text transform="translate(691.70,1400.80)" font-size="29.5" text-anchor="middle" letter-spacing="1.2">0.8</text>
<text transform="translate(828.00,1400.80)" font-size="29.5" text-anchor="middle" letter-spacing="1.2">1</text>
<text transform="translate(140.00,1376.69)" font-size="27.0" text-anchor="end" letter-spacing="0.6">10</text>
<text transform="translate(140.10,1363.69)" font-size="18.0" text-anchor="start" >17</text>
<text transform="translate(140.00,1287.26)" font-size="27.0" text-anchor="end" letter-spacing="0.6">10</text>
<text transform="translate(140.10,1274.26)" font-size="18.0" text-anchor="start" >18</text>
<text transform="translate(140.00,1197.83)" font-size="27.0" text-anchor="end" letter-spacing="0.6">10</text>
<text transform="translate(140.10,1184.83)" font-size="18.0" text-anchor="start" >19</text>
<text transform="translate(140.00,1108.40)" font-size="27.0" text-anchor="end" letter-spacing="0.6">10</text>
<text transform="translate(140.10,1095.40)" font-size="18.0" text-anchor="start" >20</text>
<text transform="translate(832.50,1373.50)" font-size="28.0" text-anchor="start" letter-spacing="0.9">0</text>
<text transform="translate(832.50,1319.14)" font-size="28.0" text-anchor="start" letter-spacing="0.9">500</text>
<text transform="translate(832.50,1264.78)" font-size="28.0" text-anchor="start" letter-spacing="0.9">1000</text>
<text transform="translate(832.50,1210.42)" font-size="28.0" text-anchor="start" letter-spacing="0.9">1500</text>
<text transform="translate(832.50,1156.06)" font-size="28.0" text-anchor="start" letter-spacing="0.9">2000</text>
<text transform="translate(832.50,1101.70)" font-size="28.0" text-anchor="start" letter-spacing="0.9">2500</text>
<text transform="translate(500.00,1436.90)" font-size="39.5" text-anchor="middle" ><tspan font-style="italic">x</tspan> (mm)</text>
<text transform="translate(87.40,1230.20) scale(1.04,1) rotate(-90)" font-size="39.0" text-anchor="middle" ><tspan font-style="italic">n</tspan><tspan font-style="italic" font-size="24" dy="11">e</tspan><tspan dy="-11">, </tspan><tspan font-style="italic">n</tspan><tspan font-style="italic" font-size="24" dy="11">i</tspan><tspan dy="-11"> (m</tspan><tspan font-size="24" dy="-17.5">-3</tspan><tspan dy="17.5">)</tspan></text>
<text transform="translate(931.30,1227.60) scale(1.035,1) rotate(-90)" font-size="39.3" text-anchor="middle" ><tspan font-style="italic">T</tspan> (K)</text>
<line x1="384.70" y1="1200.90" x2="452.40" y2="1200.90" stroke="#000" stroke-width="2.6" stroke-linecap="butt"/>
<line x1="384.70" y1="1246.50" x2="452.40" y2="1246.50" stroke="#f00" stroke-width="2.6" stroke-linecap="butt"/>
<line x1="388.00" y1="1290.40" x2="455.70" y2="1290.40" stroke="#00f" stroke-width="2.6" stroke-linecap="butt"/>
<text transform="translate(460.00,1210.50)" font-size="30" text-anchor="start" ><tspan font-style="italic">n</tspan><tspan font-style="italic" font-size="17.5" dy="10.8" dx="1">e</tspan></text>
<text transform="translate(460.00,1256.10)" font-size="30" text-anchor="start" ><tspan font-style="italic">n</tspan><tspan font-style="italic" font-size="17.5" dy="10.4" dx="1">i</tspan></text>
<text transform="translate(463.50,1299.90)" font-size="30" text-anchor="start" ><tspan font-style="italic">T</tspan></text>
<text transform="translate(14.00,1121.80)" font-size="46.5" text-anchor="start" >B</text>
<clipPath id="cC"><rect x="167.70000000000002" y="1492.9" width="660.0" height="272.6999999999998"/></clipPath>
<line x1="233.96" y1="1765.10" x2="233.96" y2="1760.60" stroke="#000" stroke-width="1.6" stroke-linecap="butt"/>
<line x1="233.96" y1="1493.40" x2="233.96" y2="1497.90" stroke="#000" stroke-width="1.6" stroke-linecap="butt"/>
<line x1="299.82" y1="1765.10" x2="299.82" y2="1757.60" stroke="#000" stroke-width="1.6" stroke-linecap="butt"/>
<line x1="299.82" y1="1493.40" x2="299.82" y2="1500.90" stroke="#000" stroke-width="1.6" stroke-linecap="butt"/>
<line x1="365.68" y1="1765.10" x2="365.68" y2="1760.60" stroke="#000" stroke-width="1.6" stroke-linecap="butt"/>
<line x1="365.68" y1="1493.40" x2="365.68" y2="1497.90" stroke="#000" stroke-width="1.6" stroke-linecap="butt"/>
<line x1="431.54" y1="1765.10" x2="431.54" y2="1757.60" stroke="#000" stroke-width="1.6" stroke-linecap="butt"/>
<line x1="431.54" y1="1493.40" x2="431.54" y2="1500.90" stroke="#000" stroke-width="1.6" stroke-linecap="butt"/>
<line x1="497.40" y1="1765.10" x2="497.40" y2="1760.60" stroke="#000" stroke-width="1.6" stroke-linecap="butt"/>
<line x1="497.40" y1="1493.40" x2="497.40" y2="1497.90" stroke="#000" stroke-width="1.6" stroke-linecap="butt"/>
<line x1="563.26" y1="1765.10" x2="563.26" y2="1757.60" stroke="#000" stroke-width="1.6" stroke-linecap="butt"/>
<line x1="563.26" y1="1493.40" x2="563.26" y2="1500.90" stroke="#000" stroke-width="1.6" stroke-linecap="butt"/>
<line x1="629.12" y1="1765.10" x2="629.12" y2="1760.60" stroke="#000" stroke-width="1.6" stroke-linecap="butt"/>
<line x1="629.12" y1="1493.40" x2="629.12" y2="1497.90" stroke="#000" stroke-width="1.6" stroke-linecap="butt"/>
<line x1="694.98" y1="1765.10" x2="694.98" y2="1757.60" stroke="#000" stroke-width="1.6" stroke-linecap="butt"/>
<line x1="694.98" y1="1493.40" x2="694.98" y2="1500.90" stroke="#000" stroke-width="1.6" stroke-linecap="butt"/>
<line x1="760.84" y1="1765.10" x2="760.84" y2="1760.60" stroke="#000" stroke-width="1.6" stroke-linecap="butt"/>
<line x1="760.84" y1="1493.40" x2="760.84" y2="1497.90" stroke="#000" stroke-width="1.6" stroke-linecap="butt"/>
<line x1="167.90" y1="1738.17" x2="171.40" y2="1738.17" stroke="#000" stroke-width="1.3" stroke-linecap="butt"/>
<line x1="167.90" y1="1722.42" x2="171.40" y2="1722.42" stroke="#000" stroke-width="1.3" stroke-linecap="butt"/>
<line x1="167.90" y1="1711.25" x2="171.40" y2="1711.25" stroke="#000" stroke-width="1.3" stroke-linecap="butt"/>
<line x1="167.90" y1="1702.58" x2="171.40" y2="1702.58" stroke="#000" stroke-width="1.3" stroke-linecap="butt"/>
<line x1="167.90" y1="1695.50" x2="171.40" y2="1695.50" stroke="#000" stroke-width="1.3" stroke-linecap="butt"/>
<line x1="167.90" y1="1689.51" x2="171.40" y2="1689.51" stroke="#000" stroke-width="1.3" stroke-linecap="butt"/>
<line x1="167.90" y1="1684.33" x2="171.40" y2="1684.33" stroke="#000" stroke-width="1.3" stroke-linecap="butt"/>
<line x1="167.90" y1="1679.75" x2="171.40" y2="1679.75" stroke="#000" stroke-width="1.3" stroke-linecap="butt"/>
<line x1="167.90" y1="1675.66" x2="174.90" y2="1675.66" stroke="#000" stroke-width="1.6" stroke-linecap="butt"/>
<line x1="167.90" y1="1648.74" x2="171.40" y2="1648.74" stroke="#000" stroke-width="1.3" stroke-linecap="butt"/>
<line x1="167.90" y1="1632.99" x2="171.40" y2="1632.99" stroke="#000" stroke-width="1.3" stroke-linecap="butt"/>
<line x1="167.90" y1="1621.82" x2="171.40" y2="1621.82" stroke="#000" stroke-width="1.3" stroke-linecap="butt"/>
<line x1="167.90" y1="1613.15" x2="171.40" y2="1613.15" stroke="#000" stroke-width="1.3" stroke-linecap="butt"/>
<line x1="167.90" y1="1606.07" x2="171.40" y2="1606.07" stroke="#000" stroke-width="1.3" stroke-linecap="butt"/>
<line x1="167.90" y1="1600.08" x2="171.40" y2="1600.08" stroke="#000" stroke-width="1.3" stroke-linecap="butt"/>
<line x1="167.90" y1="1594.90" x2="171.40" y2="1594.90" stroke="#000" stroke-width="1.3" stroke-linecap="butt"/>
<line x1="167.90" y1="1590.32" x2="171.40" y2="1590.32" stroke="#000" stroke-width="1.3" stroke-linecap="butt"/>
<line x1="167.90" y1="1586.23" x2="174.90" y2="1586.23" stroke="#000" stroke-width="1.6" stroke-linecap="butt"/>
<line x1="167.90" y1="1559.31" x2="171.40" y2="1559.31" stroke="#000" stroke-width="1.3" stroke-linecap="butt"/>
<line x1="167.90" y1="1543.56" x2="171.40" y2="1543.56" stroke="#000" stroke-width="1.3" stroke-linecap="butt"/>
<line x1="167.90" y1="1532.39" x2="171.40" y2="1532.39" stroke="#000" stroke-width="1.3" stroke-linecap="butt"/>
<line x1="167.90" y1="1523.72" x2="171.40" y2="1523.72" stroke="#000" stroke-width="1.3" stroke-linecap="butt"/>
<line x1="167.90" y1="1516.64" x2="171.40" y2="1516.64" stroke="#000" stroke-width="1.3" stroke-linecap="butt"/>
<line x1="167.90" y1="1510.65" x2="171.40" y2="1510.65" stroke="#000" stroke-width="1.3" stroke-linecap="butt"/>
<line x1="167.90" y1="1505.47" x2="171.40" y2="1505.47" stroke="#000" stroke-width="1.3" stroke-linecap="butt"/>
<line x1="167.90" y1="1500.89" x2="171.40" y2="1500.89" stroke="#000" stroke-width="1.3" stroke-linecap="butt"/>
<line x1="167.90" y1="1496.80" x2="174.90" y2="1496.80" stroke="#000" stroke-width="1.6" stroke-linecap="butt"/>
<line x1="826.90" y1="1710.74" x2="819.40" y2="1710.74" stroke="#000" stroke-width="1.6" stroke-linecap="butt"/>
<line x1="826.90" y1="1656.38" x2="819.40" y2="1656.38" stroke="#000" stroke-width="1.6" stroke-linecap="butt"/>
<line x1="826.90" y1="1602.02" x2="819.40" y2="1602.02" stroke="#000" stroke-width="1.6" stroke-linecap="butt"/>
<line x1="826.90" y1="1547.66" x2="819.40" y2="1547.66" stroke="#000" stroke-width="1.6" stroke-linecap="butt"/>
<line x1="826.90" y1="1737.92" x2="822.40" y2="1737.92" stroke="#000" stroke-width="1.6" stroke-linecap="butt"/>
<line x1="826.90" y1="1683.56" x2="822.40" y2="1683.56" stroke="#000" stroke-width="1.6" stroke-linecap="butt"/>
<line x1="826.90" y1="1629.20" x2="822.40" y2="1629.20" stroke="#000" stroke-width="1.6" stroke-linecap="butt"/>
<line x1="826.90" y1="1574.84" x2="822.40" y2="1574.84" stroke="#000" stroke-width="1.6" stroke-linecap="butt"/>
<line x1="826.90" y1="1520.48" x2="822.40" y2="1520.48" stroke="#000" stroke-width="1.6" stroke-linecap="butt"/>
<rect x="167.9" y="1493.4" width="659.0" height="271.6999999999998" fill="none" stroke="#000" stroke-width="1.6"/>
<g clip-path="url(#cC)">
<path d="M175.00,1765.10 C176.00,1759.30 177.00,1753.47 178.00,1747.60 C179.03,1741.54 180.07,1738.07 181.10,1729.30 C181.73,1723.93 182.37,1712.05 183.00,1703.60 C183.63,1695.15 184.27,1688.33 184.90,1678.60 C185.70,1666.31 186.50,1647.73 187.30,1633.60 C188.20,1617.70 189.10,1597.66 190.00,1588.60 C190.70,1581.55 191.40,1578.41 192.10,1573.10 C192.93,1566.78 193.77,1559.51 194.60,1553.60 C195.50,1547.22 196.40,1540.90 197.30,1536.10 C198.30,1530.77 199.30,1525.90 200.30,1522.60 C201.47,1518.75 202.63,1515.75 203.80,1513.60 C205.13,1511.14 206.47,1509.29 207.80,1507.90 C209.50,1506.13 211.20,1504.87 212.90,1503.80 C214.93,1502.53 216.97,1501.41 219.00,1500.70" fill="none" stroke="#000" stroke-width="2.4" stroke-linejoin="round" stroke-linecap="butt"/>
<path d="M822.40,1563.60 C822.83,1564.13 823.27,1569.25 823.70,1574.60 C824.07,1579.13 824.43,1589.39 824.80,1598.60 C825.27,1610.32 825.73,1625.76 826.20,1640.60 C826.40,1646.96 826.60,1653.73 826.80,1660.60" fill="none" stroke="#000" stroke-width="1.6" stroke-linejoin="round" stroke-linecap="butt"/>
<path d="M167.90,1515.50 C168.10,1523.44 168.30,1531.04 168.50,1536.10 C168.87,1545.38 169.23,1551.91 169.60,1557.20 C170.07,1563.93 170.53,1571.28 171.00,1573.10 C171.53,1575.18 172.07,1576.02 172.60,1576.80 C173.63,1578.31 174.67,1579.21 175.70,1579.90 C176.77,1580.61 177.83,1581.50 178.90,1581.50 C179.60,1581.50 180.30,1581.27 181.00,1581.00 C182.07,1580.59 183.13,1577.75 184.20,1576.80 C185.23,1575.88 186.27,1575.39 187.30,1574.70 C188.10,1574.16 188.90,1574.18 189.70,1573.10 C190.13,1572.52 190.57,1565.60 191.00,1562.50 C191.73,1557.26 192.47,1552.83 193.20,1548.80 C194.07,1544.04 194.93,1539.91 195.80,1536.10 C196.87,1531.41 197.93,1526.51 199.00,1523.40 C200.40,1519.32 201.80,1516.30 203.20,1513.90 C204.60,1511.50 206.00,1509.52 207.40,1508.10 C209.17,1506.30 210.93,1505.00 212.70,1503.90 C214.80,1502.59 216.90,1501.46 219.00,1500.70 C221.13,1499.93 223.27,1499.26 225.40,1498.90 C228.20,1498.42 231.00,1497.90 233.80,1497.90 C236.63,1497.90 239.47,1497.90 242.30,1497.90 C245.47,1497.90 248.63,1498.28 251.80,1498.60 C255.20,1498.94 258.60,1499.81 262.00,1500.20 C264.57,1500.49 267.13,1500.64 269.70,1500.90 C275.47,1501.48 281.23,1502.34 287.00,1502.93 C295.00,1503.75 303.00,1504.64 311.00,1505.08 C319.00,1505.52 327.00,1505.94 335.00,1506.03 C343.00,1506.11 351.00,1506.17 359.00,1506.17 C367.00,1506.17 375.00,1506.00 383.00,1505.90 C391.00,1505.81 399.00,1505.66 407.00,1505.60 C415.00,1505.54 423.00,1505.47 431.00,1505.47 C439.00,1505.47 447.00,1505.50 455.00,1505.54 C463.00,1505.57 471.00,1505.69 479.00,1505.80 C487.00,1505.91 495.00,1506.08 503.00,1506.27 C511.00,1506.45 519.00,1506.70 527.00,1506.96 C535.00,1507.21 543.00,1507.53 551.00,1507.85 C559.00,1508.18 567.00,1508.55 575.00,1508.93 C583.00,1509.31 591.00,1509.73 599.00,1510.15 C607.00,1510.58 615.00,1511.03 623.00,1511.49 C631.00,1511.96 639.00,1512.44 647.00,1512.92 C655.00,1513.41 663.00,1513.91 671.00,1514.41 C679.00,1514.91 687.00,1515.41 695.00,1515.92 C703.00,1516.42 711.00,1516.92 719.00,1517.42 C727.00,1517.91 735.00,1518.40 743.00,1518.88 C749.37,1519.26 755.73,1519.48 762.10,1520.00 C768.07,1520.49 774.03,1521.35 780.00,1522.40 C784.80,1523.25 789.60,1524.51 794.40,1526.00 C798.00,1527.12 801.60,1528.26 805.20,1530.30 C807.57,1531.64 809.93,1533.82 812.30,1536.70 C814.10,1538.89 815.90,1541.24 817.70,1546.40 C818.67,1549.17 819.63,1554.24 820.60,1562.60 C820.97,1565.77 821.33,1570.88 821.70,1578.60 C821.90,1582.81 822.10,1587.81 822.30,1598.60 C822.40,1603.99 822.50,1623.08 822.60,1630.60 C822.83,1648.15 823.07,1656.42 823.30,1668.60 C823.63,1685.99 823.97,1696.27 824.30,1718.60 C824.47,1729.77 824.63,1746.93 824.80,1764.60" fill="none" stroke="#f00" stroke-width="2.6" stroke-linejoin="round" stroke-linecap="butt"/>
<path d="M168.20,1731.60 C168.57,1713.16 168.93,1695.97 169.30,1681.60 C169.80,1662.00 170.30,1642.39 170.80,1630.60 C171.40,1616.46 172.00,1606.08 172.60,1598.60 C172.93,1594.44 173.27,1592.15 173.60,1588.60 C173.90,1585.41 174.20,1582.36 174.50,1578.40 C174.83,1574.00 175.17,1565.24 175.50,1562.50 C176.27,1556.20 177.03,1554.09 177.80,1550.90 C178.70,1547.15 179.60,1543.97 180.50,1541.40 C181.53,1538.45 182.57,1535.61 183.60,1534.00 C184.83,1532.08 186.07,1530.69 187.30,1529.80 C189.07,1528.53 190.83,1527.67 192.60,1527.10 C194.73,1526.41 196.87,1526.00 199.00,1525.60 C202.50,1524.94 206.00,1524.39 209.50,1523.98 C213.50,1523.52 217.50,1523.20 221.50,1522.89 C225.50,1522.58 229.50,1522.29 233.50,1522.07 C237.50,1521.85 241.50,1521.64 245.50,1521.50 C249.50,1521.37 253.50,1521.23 257.50,1521.18 C261.50,1521.13 265.50,1521.08 269.50,1521.08 C273.50,1521.08 277.50,1521.14 281.50,1521.19 C285.50,1521.24 289.50,1521.36 293.50,1521.48 C297.50,1521.60 301.50,1521.77 305.50,1521.95 C309.50,1522.12 313.50,1522.34 317.50,1522.57 C321.50,1522.79 325.50,1523.05 329.50,1523.32 C333.50,1523.59 337.50,1523.89 341.50,1524.19 C345.50,1524.50 349.50,1524.83 353.50,1525.17 C357.50,1525.51 361.50,1525.86 365.50,1526.23 C369.50,1526.59 373.50,1526.97 377.50,1527.35 C381.50,1527.74 385.50,1528.13 389.50,1528.53 C393.50,1528.94 397.50,1529.35 401.50,1529.77 C405.50,1530.20 409.50,1530.63 413.50,1531.08 C417.50,1531.53 421.50,1531.99 425.50,1532.47 C429.50,1532.94 433.50,1533.43 437.50,1533.94 C441.50,1534.44 445.50,1534.97 449.50,1535.51 C453.50,1536.05 457.50,1536.60 461.50,1537.18 C465.50,1537.76 469.50,1538.35 473.50,1538.97 C477.50,1539.58 481.50,1540.22 485.50,1540.88 C489.50,1541.54 493.50,1542.22 497.50,1542.92 C501.50,1543.62 505.50,1544.35 509.50,1545.11 C513.50,1545.86 517.50,1546.64 521.50,1547.44 C525.50,1548.25 529.50,1549.08 533.50,1549.94 C537.50,1550.80 541.50,1551.69 545.50,1552.61 C549.50,1553.52 553.50,1554.47 557.50,1555.45 C561.50,1556.43 565.50,1557.44 569.50,1558.49 C573.50,1559.53 577.50,1560.61 581.50,1561.72 C585.50,1562.83 589.50,1563.98 593.50,1565.16 C597.50,1566.33 601.50,1567.55 605.50,1568.79 C609.50,1570.02 613.50,1571.29 617.50,1572.57 C621.50,1573.85 625.50,1575.14 629.50,1576.45 C633.50,1577.77 637.50,1579.08 641.50,1580.46 C645.50,1581.84 649.50,1583.25 653.50,1584.73 C657.50,1586.22 661.50,1587.77 665.50,1589.41 C669.50,1591.05 673.50,1592.78 677.50,1594.59 C681.50,1596.40 685.50,1598.31 689.50,1600.30 C693.50,1602.28 697.50,1604.37 701.50,1606.54 C705.50,1608.71 709.50,1610.97 713.50,1613.34 C717.50,1615.71 721.50,1618.18 725.50,1620.76 C729.50,1623.35 733.50,1626.05 737.50,1628.86 C741.50,1631.68 745.50,1634.62 749.50,1637.70 C753.50,1640.77 757.50,1643.95 761.50,1647.36 C765.50,1650.76 769.50,1654.33 773.50,1658.20 C777.50,1662.07 781.50,1666.20 785.50,1670.69 C789.50,1675.18 793.50,1680.04 797.50,1685.30 C801.50,1690.56 805.50,1696.29 809.50,1702.49 C813.50,1708.69 817.50,1715.55 821.50,1722.73 C823.17,1725.72 824.83,1728.93 826.50,1732.18" fill="none" stroke="#00f" stroke-width="2.6" stroke-linejoin="round" stroke-linecap="butt"/>
</g>
<text transform="translate(172.50,1799.40)" font-size="29.5" text-anchor="middle" letter-spacing="1.2">0</text>
<text transform="translate(297.70,1799.40)" font-size="29.5" text-anchor="middle" letter-spacing="1.2">0.2</text>
<text transform="translate(432.50,1799.40)" font-size="29.5" text-anchor="middle" letter-spacing="1.2">0.4</text>
<text transform="translate(567.10,1799.40)" font-size="29.5" text-anchor="middle" letter-spacing="1.2">0.6</text>
<text transform="translate(693.70,1799.40)" font-size="29.5" text-anchor="middle" letter-spacing="1.2">0.8</text>
<text transform="translate(830.00,1799.40)" font-size="29.5" text-anchor="middle" letter-spacing="1.2">1</text>
<text transform="translate(142.00,1775.29)" font-size="27.0" text-anchor="end" letter-spacing="0.6">10</text>
<text transform="translate(142.10,1762.29)" font-size="18.0" text-anchor="start" >17</text>
<text transform="translate(142.00,1685.86)" font-size="27.0" text-anchor="end" letter-spacing="0.6">10</text>
<text transform="translate(142.10,1672.86)" font-size="18.0" text-anchor="start" >18</text>
<text transform="translate(142.00,1596.43)" font-size="27.0" text-anchor="end" letter-spacing="0.6">10</text>
<text transform="translate(142.10,1583.43)" font-size="18.0" text-anchor="start" >19</text>
<text transform="translate(142.00,1507.00)" font-size="27.0" text-anchor="end" letter-spacing="0.6">10</text>
<text transform="translate(142.10,1494.00)" font-size="18.0" text-anchor="start" >20</text>
<text transform="translate(834.50,1772.10)" font-size="28.0" text-anchor="start" letter-spacing="0.9">0</text>
<text transform="translate(834.50,1717.74)" font-size="28.0" text-anchor="start" letter-spacing="0.9">500</text>
<text transform="translate(834.50,1663.38)" font-size="28.0" text-anchor="start" letter-spacing="0.9">1000</text>
<text transform="translate(834.50,1609.02)" font-size="28.0" text-anchor="start" letter-spacing="0.9">1500</text>
<text transform="translate(834.50,1554.66)" font-size="28.0" text-anchor="start" letter-spacing="0.9">2000</text>
<text transform="translate(834.50,1500.30)" font-size="28.0" text-anchor="start" letter-spacing="0.9">2500</text>
<text transform="translate(502.00,1835.50)" font-size="39.5" text-anchor="middle" ><tspan font-style="italic">x</tspan> (mm)</text>
<text transform="translate(89.40,1628.80) scale(1.04,1) rotate(-90)" font-size="39.0" text-anchor="middle" ><tspan font-style="italic">n</tspan><tspan font-style="italic" font-size="24" dy="11">e</tspan><tspan dy="-11">, </tspan><tspan font-style="italic">n</tspan><tspan font-style="italic" font-size="24" dy="11">i</tspan><tspan dy="-11"> (m</tspan><tspan font-size="24" dy="-17.5">-3</tspan><tspan dy="17.5">)</tspan></text>
<text transform="translate(933.30,1626.20) scale(1.035,1) rotate(-90)" font-size="39.3" text-anchor="middle" ><tspan font-style="italic">T</tspan> (K)</text>
<line x1="386.70" y1="1599.50" x2="454.40" y2="1599.50" stroke="#000" stroke-width="2.6" stroke-linecap="butt"/>
<line x1="386.70" y1="1645.10" x2="454.40" y2="1645.10" stroke="#f00" stroke-width="2.6" stroke-linecap="butt"/>
<line x1="390.00" y1="1689.00" x2="457.70" y2="1689.00" stroke="#00f" stroke-width="2.6" stroke-linecap="butt"/>
<text transform="translate(462.00,1609.10)" font-size="30" text-anchor="start" ><tspan font-style="italic">n</tspan><tspan font-style="italic" font-size="17.5" dy="10.8" dx="1">e</tspan></text>
<text transform="translate(462.00,1654.70)" font-size="30" text-anchor="start" ><tspan font-style="italic">n</tspan><tspan font-style="italic" font-size="17.5" dy="10.4" dx="1">i</tspan></text>
<text transform="translate(465.50,1698.50)" font-size="30" text-anchor="start" ><tspan font-style="italic">T</tspan></text>
<text transform="translate(5.00,1526.30)" font-size="46.5" text-anchor="start" >C</text>
<text transform="translate(483.50,1906.50)" font-size="38" text-anchor="middle" font-style="italic" >b)</text>
</svg>
</body></html>
